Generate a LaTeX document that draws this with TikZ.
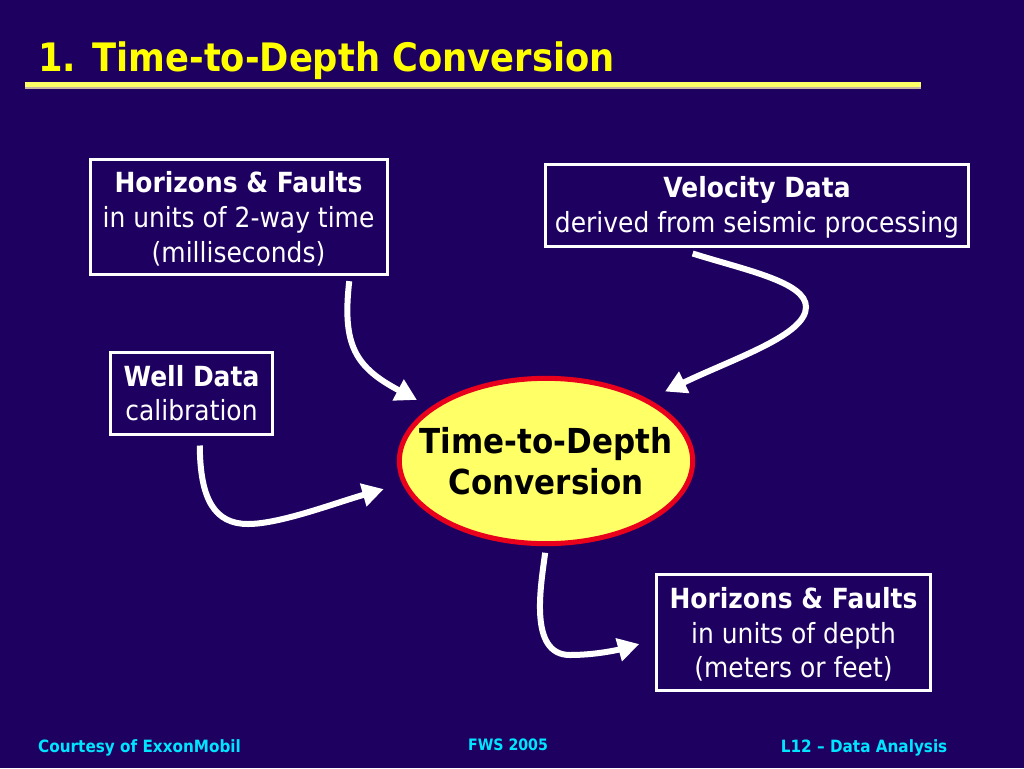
\documentclass[tikz,border=0pt]{standalone}
\usepackage{fontspec}
\setmainfont[FakeStretch=0.9]{DejaVu Sans}
\usetikzlibrary{shapes.geometric,arrows.meta}
\definecolor{slidebg}{HTML}{1E0060}
\definecolor{titleyellow}{HTML}{FFFF00}
\definecolor{ruleyellow}{HTML}{FFFF66}
\definecolor{ruletan}{HTML}{C8B4A0}
\definecolor{ovalfill}{HTML}{FFFF66}
\definecolor{ovalline}{HTML}{E8001C}
\definecolor{footcyan}{HTML}{00E5FF}
\tikzset{
    infobox/.style={draw=white,line width=2.25pt,text=white,align=center,inner sep=0pt,text depth=0pt,font=\fontsize{20.8}{26}\selectfont},
    flow/.style={draw=white,line width=4.5pt,-{Triangle[length=16pt,width=17pt]}},
    foot/.style={text=footcyan,font=\fontsize{12.7}{15}\selectfont\bfseries}
}
\begin{document}
\begin{tikzpicture}[x=0.75pt,y=-0.75pt]
    \useasboundingbox[fill=slidebg] (0,0) rectangle (1024,768);
    \node[anchor=base west,text=titleyellow,font=\fontsize{29.4}{34}\selectfont\bfseries] (title) at (33.5,71) {1. Time-to-Depth Conversion};
    \fill[ruleyellow] (25,82) rectangle (921,87);
    \fill[ruletan] (25,87) rectangle (921,89);
    \node[infobox,minimum width=222.75pt,minimum height=86.5pt] (hftime) at (238.5,217) {\textbf{Horizons \& Faults}\\in units of 2-way time\\(milliseconds)};
    \node[infobox,text depth=1.2pt,minimum width=317.75pt,minimum height=61.5pt] (veldata) at (757,205) {\textbf{Velocity Data}\\derived from seismic processing};
    \node[infobox,minimum width=122pt,minimum height=61.5pt] (welldata) at (191.5,393) {\textbf{Well Data}\\calibration};
    \node[ellipse,draw=ovalline,fill=ovalfill,line width=3.75pt,minimum width=220pt,minimum height=124pt,inner xsep=-17pt,inner ysep=0pt,align=center,text depth=-3pt,font=\fontsize{25.8}{31}\selectfont\bfseries] (ttd) at (546,461) {Time-to-Depth\\Conversion};
    \node[infobox,minimum width=206pt,minimum height=87.5pt] (hfdepth) at (793.5,632.5) {\textbf{Horizons \& Faults}\\in units of depth\\(meters or feet)};
    \draw[flow,shorten <=3.75pt,shorten >=11.5pt] (hftime.-28.6) .. controls (342,345) and (355,367) .. (ttd.155);
    \draw[flow,shorten <=15pt,shorten >=13.5pt] (veldata.-153) .. controls (745,270) and (806,282) .. (806,307) .. controls (806,335) and (735,358) .. (ttd.31);
    \draw[flow,shorten <=7.5pt,shorten >=14.5pt] (welldata.-79) .. controls (200,500) and (215,524) .. (248,524) .. controls (280,524) and (335,503) .. (ttd.189);
    \draw[flow,shorten <=5pt,shorten >=12pt] (ttd.south) .. controls (541,585) and (528,655) .. (570,655) .. controls (600,655) and (625,648) .. (hfdepth.183);
    \node[foot,anchor=base west] (footleft) at (33.5,752) {Courtesy of ExxonMobil};
    \node[foot,anchor=base,font=\fontsize{11.8}{14}\selectfont\bfseries] (footmid) at (508,750) {FWS 2005};
    \node[foot,anchor=base east] (footright) at (952,752) {L12 – Data Analysis};
\end{tikzpicture}
\end{document}
